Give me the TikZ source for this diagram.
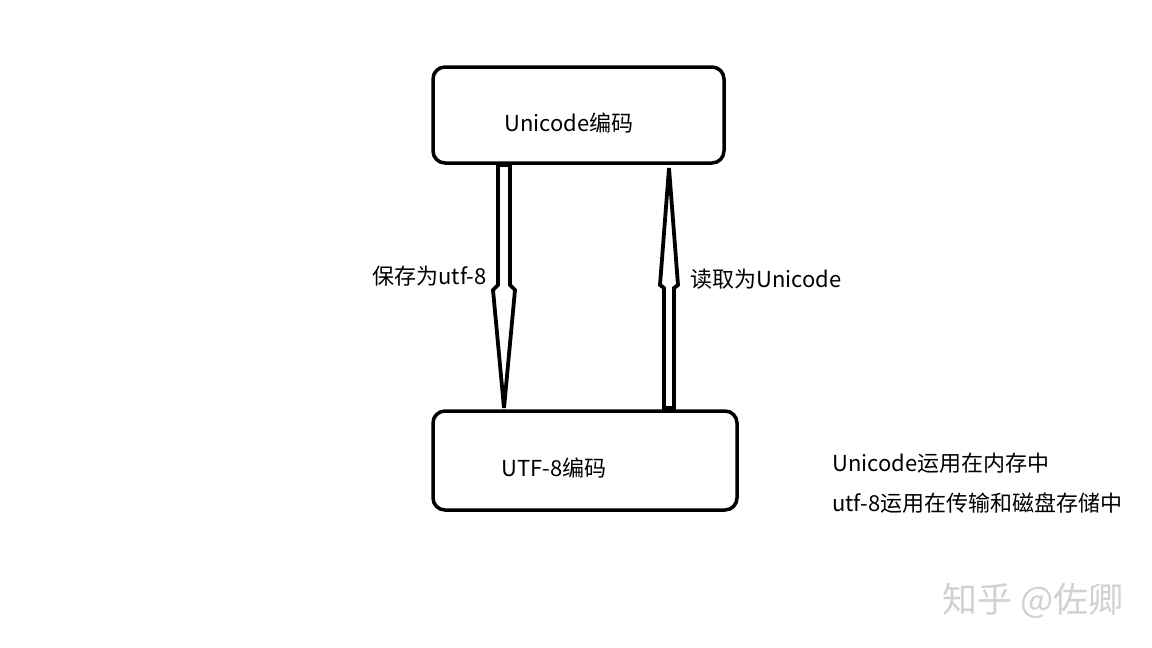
\documentclass[tikz,border=0pt]{standalone}
\usepackage{fontspec}
\setmainfont{Noto Sans CJK SC}
\begin{document}
\begin{tikzpicture}[x=1pt,y=-1pt,
  box/.style={draw,line width=3.5pt,rounded corners=12pt},
  blk/.style={draw,line width=3.8pt,line join=miter},
  lbl/.style={font=\fontsize{22}{26}\selectfont,inner sep=0pt}]
\useasboundingbox[fill=white] (0,0) rectangle (1152,648);
\draw[box] (433,67) rectangle (724,163);
\node[lbl] (u) at (569,123) {Unicode编码};
\draw[box] (433,411) rectangle (737,510);
\node[lbl] (t) at (554,468) {UTF-8编码};
\draw[blk] (498,165) -- (510,165) -- (510,285) -- (515,290) -- (504,408) -- (493,290) -- (498,285) -- cycle;
\draw[blk] (664,408) -- (674,408) -- (674,288) -- (678,285) -- (669,168) -- (660,285) -- (664,288) -- cycle;
\node[lbl,anchor=east] (s) at (487,276) {保存为utf-8};
\node[lbl,anchor=west] (r) at (690,279) {读取为Unicode};
\node[lbl,anchor=west] (n1) at (832,463) {Unicode运用在内存中};
\node[lbl,anchor=west] (n2) at (832,503) {utf-8运用在传输和磁盘存储中};
\node[font=\fontsize{35}{40}\selectfont,text=black!18,anchor=west,inner sep=0pt] (w) at (942,601) {知乎 @佐卿};
\end{tikzpicture}
\end{document}
